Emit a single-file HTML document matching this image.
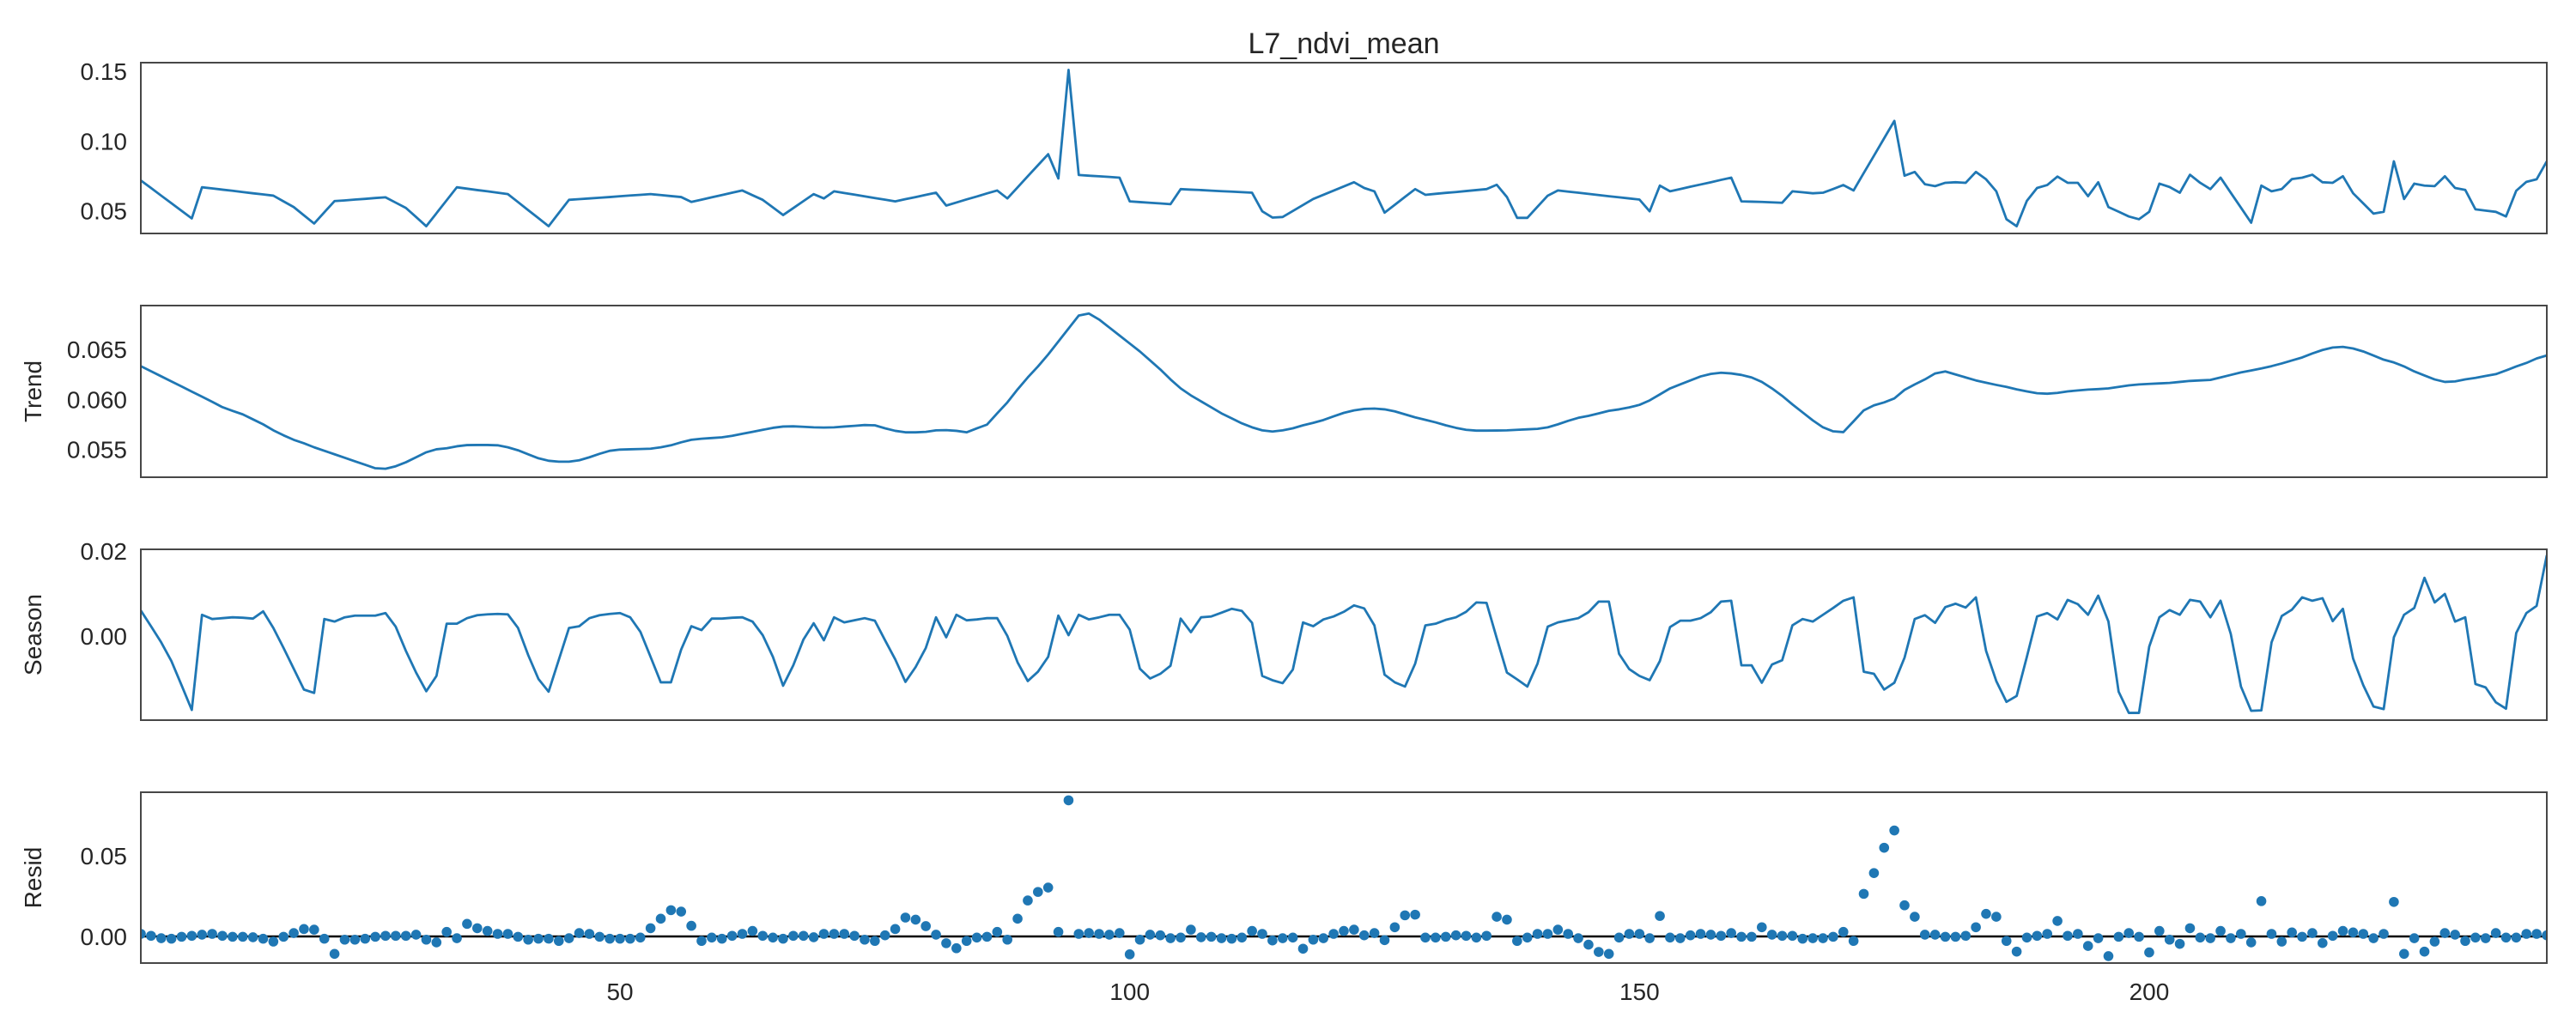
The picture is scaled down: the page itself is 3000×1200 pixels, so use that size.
<!DOCTYPE html>
<html><head><meta charset="utf-8"><title>L7_ndvi_mean decomposition</title>
<style>
html,body{margin:0;padding:0;background:#fff;}
svg{display:block;font-family:"Liberation Sans",Arial,sans-serif;}
</style></head>
<body>
<svg id="chart" width="3000" height="1200" viewBox="0 0 3000 1200" xmlns="http://www.w3.org/2000/svg">
<rect width="3000" height="1200" fill="#fff"/>
<text x="1565" y="62" text-anchor="middle" font-size="34" fill="#262626">L7_ndvi_mean</text>
</svg>
<script>
const xStart = 3;
const observedVals = [0.0718,0.0664,0.0609,0.0555,0.0500,0.0446,0.0669,0.0661,0.0652,0.0644,0.0635,0.0626,0.0618,0.0609,0.0568,0.0527,0.0468,0.0409,0.0490,0.0570,0.0575,0.0581,0.0586,0.0592,0.0597,0.0559,0.0521,0.0456,0.0390,0.0483,0.0576,0.0669,0.0659,0.0649,0.0640,0.0630,0.0620,0.0563,0.0505,0.0448,0.0390,0.0485,0.0579,0.0584,0.0589,0.0594,0.0599,0.0605,0.0610,0.0615,0.0620,0.0613,0.0606,0.0599,0.0564,0.0580,0.0597,0.0613,0.0630,0.0646,0.0612,0.0579,0.0525,0.0470,0.0520,0.0570,0.0620,0.0589,0.0640,0.0628,0.0616,0.0604,0.0592,0.0580,0.0568,0.0584,0.0599,0.0615,0.0630,0.0538,0.0560,0.0582,0.0603,0.0625,0.0646,0.0589,0.0668,0.0748,0.0827,0.0906,0.0732,0.1510,0.0757,0.0752,0.0748,0.0743,0.0738,0.0568,0.0563,0.0558,0.0553,0.0548,0.0656,0.0652,0.0649,0.0645,0.0641,0.0638,0.0634,0.0630,0.0497,0.0452,0.0456,0.0499,0.0542,0.0585,0.0615,0.0645,0.0675,0.0705,0.0664,0.0640,0.0487,0.0543,0.0600,0.0656,0.0615,0.0622,0.0629,0.0635,0.0642,0.0649,0.0656,0.0687,0.0599,0.0450,0.0450,0.0530,0.0609,0.0646,0.0638,0.0630,0.0622,0.0613,0.0605,0.0597,0.0589,0.0581,0.0497,0.0681,0.0640,0.0656,0.0673,0.0689,0.0705,0.0722,0.0738,0.0568,0.0566,0.0564,0.0561,0.0558,0.0640,0.0633,0.0626,0.0630,0.0657,0.0685,0.0646,0.0771,0.0895,0.1020,0.1145,0.0752,0.0779,0.0691,0.0677,0.0701,0.0705,0.0701,0.0779,0.0726,0.0640,0.0440,0.0390,0.0572,0.0664,0.0685,0.0746,0.0701,0.0701,0.0605,0.0705,0.0527,0.0494,0.0460,0.0440,0.0493,0.0695,0.0671,0.0630,0.0759,0.0701,0.0656,0.0738,0.0630,0.0523,0.0415,0.0681,0.0640,0.0656,0.0728,0.0738,0.0759,0.0705,0.0701,0.0748,0.0626,0.0553,0.0480,0.0493,0.0855,0.0585,0.0695,0.0681,0.0677,0.0748,0.0664,0.0650,0.0511,0.0502,0.0493,0.0460,0.0644,0.0708,0.0726,0.0855];
const trendVals = [63.33,62.82,62.31,61.80,61.29,60.78,60.27,59.76,59.22,58.85,58.50,58.00,57.50,56.90,56.40,55.95,55.60,55.20,54.85,54.50,54.15,53.80,53.45,53.10,53.05,53.30,53.70,54.20,54.70,55.00,55.10,55.30,55.42,55.43,55.43,55.40,55.20,54.90,54.50,54.10,53.85,53.76,53.76,53.90,54.20,54.55,54.85,54.97,55.00,55.03,55.06,55.20,55.40,55.70,55.95,56.06,56.13,56.20,56.35,56.55,56.75,56.95,57.15,57.28,57.30,57.25,57.20,57.18,57.20,57.28,57.35,57.43,57.40,57.10,56.85,56.70,56.70,56.75,56.90,56.92,56.85,56.70,57.10,57.47,58.60,59.70,61.00,62.20,63.30,64.50,65.80,67.10,68.40,68.60,68.00,67.20,66.40,65.60,64.80,63.90,63.00,62.00,61.10,60.40,59.80,59.20,58.60,58.10,57.60,57.20,56.90,56.78,56.90,57.10,57.40,57.65,57.93,58.30,58.65,58.90,59.05,59.08,59.00,58.80,58.50,58.20,57.95,57.70,57.40,57.15,56.95,56.87,56.87,56.88,56.90,56.95,57.00,57.05,57.20,57.50,57.85,58.15,58.35,58.60,58.85,59.00,59.20,59.45,59.90,60.50,61.10,61.50,61.90,62.30,62.55,62.67,62.60,62.45,62.20,61.75,61.10,60.35,59.50,58.70,57.90,57.20,56.80,56.72,57.80,58.90,59.40,59.70,60.10,60.95,61.50,62.00,62.60,62.80,62.50,62.20,61.90,61.67,61.45,61.25,61.00,60.80,60.62,60.57,60.65,60.80,60.90,60.98,61.03,61.10,61.25,61.40,61.50,61.55,61.60,61.65,61.75,61.85,61.90,61.95,62.20,62.45,62.70,62.90,63.10,63.33,63.60,63.90,64.20,64.60,64.95,65.20,65.26,65.10,64.80,64.40,63.98,63.70,63.30,62.80,62.40,62.00,61.75,61.80,62.00,62.15,62.35,62.53,62.90,63.30,63.65,64.10,64.40];
const seasonVals = [6.0,2.3,-1.5,-5.9,-11.6,-17.4,5.0,4.0,4.2,4.4,4.3,4.1,5.8,1.9,-2.8,-7.7,-12.6,-13.4,4.0,3.4,4.4,4.8,4.8,4.8,5.4,2.2,-3.5,-8.6,-13.0,-9.4,2.9,2.9,4.2,4.9,5.1,5.2,5.1,1.9,-4.5,-10.1,-13.1,-5.6,1.9,2.3,4.2,4.9,5.2,5.4,4.4,1.0,-4.9,-10.9,-10.9,-3.2,2.3,1.4,4.1,4.1,4.3,4.4,3.4,0.2,-4.9,-11.7,-6.9,-0.8,3.0,-1.0,4.4,3.2,3.7,4.2,3.6,-1.0,-5.5,-10.8,-7.3,-2.8,4.4,-0.3,5.0,3.7,3.9,4.2,4.2,0.0,-6.2,-10.6,-8.4,-4.9,4.8,0.2,5.0,3.9,4.4,5.0,5.0,1.5,-7.7,-10.0,-8.9,-7.0,4.1,0.9,4.4,4.6,5.5,6.4,5.9,3.1,-9.4,-10.4,-11.1,-7.9,3.2,2.3,3.9,4.6,5.7,7.2,6.5,2.5,-9.1,-10.9,-11.9,-6.5,2.5,2.9,3.8,4.4,5.7,7.9,7.8,-0.5,-8.6,-10.2,-11.9,-6.5,2.2,3.2,3.7,4.2,5.6,8.1,8.1,-4.2,-7.8,-9.4,-10.4,-5.9,2.1,3.6,3.6,4.2,5.6,8.1,8.3,-6.9,-6.9,-11.0,-6.7,-5.7,2.5,4.0,3.4,5.0,6.6,8.3,9.1,-8.4,-8.9,-12.6,-11.0,-5.1,4.0,4.9,3.1,6.8,7.6,6.7,9.1,-3.5,-10.6,-15.5,-14.1,-4.9,4.6,5.4,3.9,8.5,7.5,5.0,9.5,3.4,-13.1,-18.1,-18.1,-2.5,4.4,6.1,5.0,8.5,8.1,4.4,8.3,0.5,-11.9,-17.6,-17.5,-1.5,4.7,6.2,9.1,8.3,8.9,3.5,6.4,-5.3,-11.6,-16.6,-17.2,-0.3,5.0,6.6,13.7,7.9,9.9,3.4,4.4,-11.3,-12.1,-15.6,-17.1,0.7,5.4,7.1,19.0];
const residVals = [1.6,0.4,-1.1,-1.4,-0.2,0.4,1.1,1.6,0.4,-0.2,-0.2,-0.5,-1.4,-3.2,-0.2,2.1,4.6,4.2,-1.4,-10.8,-2.0,-2.0,-1.4,-0.2,0.4,0.4,0.4,1.1,-2.0,-3.7,2.8,-1.1,7.8,5.1,3.4,1.6,1.6,-0.2,-2.0,-1.4,-1.4,-2.8,-1.1,2.1,1.6,-0.2,-1.4,-1.4,-1.4,-0.7,5.1,11.0,16.3,15.4,6.6,-2.8,-0.7,-1.4,0.4,1.6,3.4,0.4,-0.7,-1.4,0.4,0.4,-0.5,1.6,1.6,1.6,0.4,-2.0,-2.8,0.7,4.6,11.7,10.4,6.4,1.1,-4.2,-7.3,-2.8,-0.7,-0.2,2.8,-2.0,11.0,22.3,27.6,30.3,2.8,84.4,1.6,2.1,1.6,1.1,2.1,-11.1,-2.0,1.1,0.7,-1.1,-0.7,4.2,-0.5,-0.2,-1.1,-1.4,-0.7,3.4,1.6,-2.5,-1.1,-0.7,-7.6,-2.0,-1.1,1.6,3.4,4.2,0.7,2.1,-2.3,5.7,13.1,13.5,-0.7,-0.7,-0.2,0.7,0.4,-0.7,0.4,12.2,10.4,-2.8,-0.7,1.6,1.6,4.2,1.6,-1.1,-5.1,-9.6,-10.8,-0.7,1.6,1.6,-1.1,12.7,-0.7,-1.1,0.7,1.6,1.1,0.4,2.1,-0.2,-0.2,5.7,1.1,0.4,0.4,-1.4,-1.1,-1.1,-0.2,2.8,-2.8,26.4,39.3,55.0,65.7,19.3,12.2,1.1,1.1,-0.2,-0.2,0.4,5.7,14.0,12.2,-2.8,-9.4,-0.7,0.4,1.6,9.6,0.4,1.6,-5.9,-1.1,-12.2,-0.2,2.1,-0.2,-9.9,3.4,-2.0,-4.6,5.1,-0.7,-1.1,3.4,-1.1,1.6,-3.7,21.9,1.6,-3.2,2.5,-0.2,2.1,-4.1,0.4,3.4,2.5,1.6,-1.1,1.6,21.4,-10.8,-1.1,-9.4,-3.2,2.1,1.1,-2.8,-0.7,-1.1,2.1,-0.7,-0.7,1.6,1.6,0.7];
const xTicks = [50,100,150,200];
const obsTicks = ["0.05","0.10","0.15"];
const trendTicks = ["0.055","0.060","0.065"];
const seasonTicks = ["0.00","0.02"];
const residTicks = ["0.00","0.05"];

const NS = "http://www.w3.org/2000/svg";
const svg = document.getElementById('chart');
const L = 164, R = 2966, xMin = 3, xMax = 239;
function xScale(v){ return L + (v - xMin) / (xMax - xMin) * (R - L); }
function mk(tag, attrs){ const e = document.createElementNS(NS, tag); for (const k in attrs) e.setAttribute(k, attrs[k]); return e; }

const panels = [
  {key:'observed', top:73, bottom:272, lo:0.0338, hi:0.1562, vals:observedVals, scale:1, ticks:obsTicks, label:null, kind:'line'},
  {key:'trend', top:356, bottom:556, lo:0.0522, hi:0.0694, vals:trendVals, scale:0.001, ticks:trendTicks, label:'Trend', kind:'line'},
  {key:'season', top:640, bottom:839, lo:-0.0198, hi:0.0204, vals:seasonVals, scale:0.001, ticks:seasonTicks, label:'Season', kind:'line'},
  {key:'resid', top:923, bottom:1122, lo:-0.0165, hi:0.0894, vals:residVals, scale:0.001, ticks:residTicks, label:'Resid', kind:'dots'}
];

panels.forEach(p => {
  const yScale = v => p.bottom - (v - p.lo) / (p.hi - p.lo) * (p.bottom - p.top);
  const g = mk('g', {});
  
  
  svg.appendChild(g);

  const clipId = 'clip-' + p.key;
  const cp = mk('clipPath', {id: clipId});
  cp.appendChild(mk('rect', {x: L, y: p.top, width: R - L, height: p.bottom - p.top}));
  g.appendChild(cp);

  p.ticks.forEach(t => {
    const tx = mk('text', {x: 148, y: yScale(parseFloat(t)) + 10, 'text-anchor': 'end', 'font-size': 28, fill: '#262626'});
    
    
    tx.textContent = t;
    g.appendChild(tx);
  });

  if (p.label) {
    const cy = (p.top + p.bottom) / 2;
    const lb = mk('text', {x: 0, y: 0, transform: 'translate(48,' + cy + ') rotate(-90)', 'text-anchor': 'middle', 'font-size': 28, fill: '#262626'});
    
    
    lb.textContent = p.label;
    g.appendChild(lb);
  }

  const inner = mk('g', {'clip-path': 'url(#' + clipId + ')'});
  g.appendChild(inner);

  if (p.kind === 'line') {
    const pts = p.vals.map((v, i) => xScale(xStart + i).toFixed(2) + ',' + yScale(v * p.scale).toFixed(2)).join(' ');
    const pl = mk('polyline', {points: pts, fill: 'none', stroke: '#1f77b4', 'stroke-width': 2.8, 'stroke-linejoin': 'round'});
    
    
    inner.appendChild(pl);
  } else {
    const zl = mk('line', {x1: L, x2: R, y1: yScale(0), y2: yScale(0), stroke: '#000', 'stroke-width': 2.6});
    
    
    inner.appendChild(zl);
    p.vals.forEach((v, i) => {
      const c = mk('circle', {cx: xScale(xStart + i), cy: yScale(v * p.scale), r: 5.8, fill: '#1f77b4'});
      
      
      inner.appendChild(c);
    });
  }

  const fr = mk('rect', {x: L, y: p.top, width: R - L, height: p.bottom - p.top, fill: 'none', stroke: '#474747', 'stroke-width': 2});
  
  
  g.appendChild(fr);
});

xTicks.forEach(t => {
  const tx = mk('text', {x: xScale(t), y: 1165, 'text-anchor': 'middle', 'font-size': 28, fill: '#262626'});
  
  
  tx.textContent = String(t);
  svg.appendChild(tx);
});
</script>
</body></html>
